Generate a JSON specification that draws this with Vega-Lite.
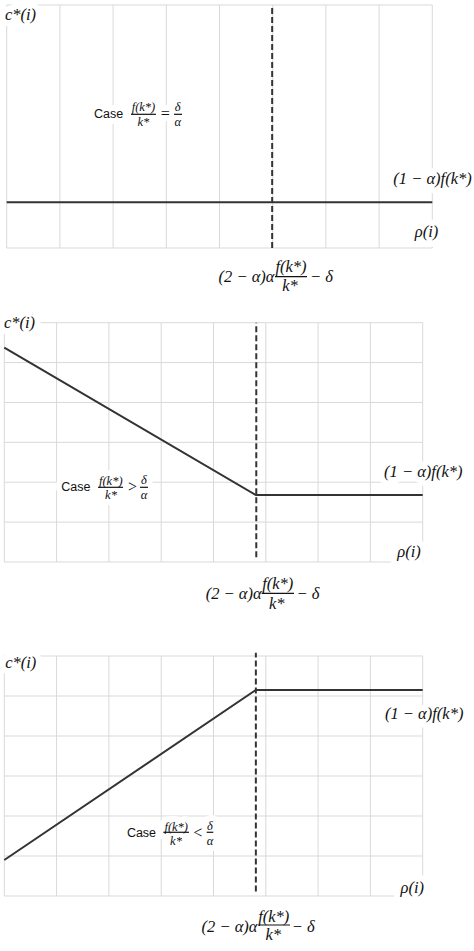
{
"$schema": "https://vega.github.io/schema/vega-lite/v6.json",
"padding": 0,
"background": "white",
"spacing": 60,
"bounds": "flush",
"config": {"view": {"stroke": null}},
"datasets": {
"vgrid": [{"x":0},{"x":1},{"x":2},{"x":3},{"x":4},{"x":5},{"x":6},{"x":7},{"x":8}],
"hgrid_all": [{"y":0},{"y":1},{"y":2},{"y":3},{"y":4},{"y":5},{"y":6}],
"hgrid_edge": [{"y":0},{"y":6}],
"curve": [
{"p":1,"x":0,"y":1.13},{"p":1,"x":8,"y":1.13},
{"p":2,"x":0,"y":5.374},{"p":2,"x":4.81,"y":1.68},{"p":2,"x":8,"y":1.68},
{"p":3,"x":0,"y":0.9},{"p":3,"x":4.81,"y":5.15},{"p":3,"x":8,"y":5.15}
],
"dash": [
{"p":1,"x":4.99,"y":0,"y2":6},
{"p":2,"x":4.818,"y":0.118,"y2":6},
{"p":3,"x":4.81,"y":0.11,"y2":6.08}
],
"bars": [
{"p":1,"x":2.336,"x2":2.806,"y":3.301},
{"p":1,"x":3.145,"x2":3.295,"y":3.301},
{"p":1,"x":5.043,"x2":5.645,"y":-0.709},
{"p":2,"x":1.792,"x2":2.270,"y":1.873},
{"p":2,"x":2.595,"x2":2.747,"y":1.873},
{"p":2,"x":4.922,"x2":5.539,"y":-0.785},
{"p":3,"x":3.040,"x2":3.532,"y":1.593},
{"p":3,"x":3.870,"x2":3.996,"y":1.593},
{"p":3,"x":4.857,"x2":5.463,"y":-0.725}
],
"texts": [
{"p":1,"t":"c*(i)","x":0.259,"y":5.753,"r":"big"},
{"p":1,"t":"Case","x":1.914,"y":3.309,"r":"case"},
{"p":1,"t":"f(k*)","x":2.571,"y":3.481,"r":"small"},
{"p":1,"t":"k*","x":2.568,"y":3.111,"r":"small"},
{"p":1,"t":"=","x":2.976,"y":3.309,"r":"op"},
{"p":1,"t":"δ","x":3.214,"y":3.481,"r":"small"},
{"p":1,"t":"α","x":3.214,"y":3.111,"r":"small"},
{"p":1,"t":"(1 − α)f(k*)","x":8.004,"y":1.704,"r":"big"},
{"p":1,"t":"ρ(i)","x":7.891,"y":0.402,"r":"big"},
{"p":1,"t":"(2 − α)α","x":4.508,"y":-0.723,"r":"big"},
{"p":1,"t":"f(k*)","x":5.344,"y":-0.462,"r":"big"},
{"p":1,"t":"k*","x":5.325,"y":-0.931,"r":"big"},
{"p":1,"t":"− δ","x":5.917,"y":-0.723,"r":"big"},
{"p":2,"t":"c*(i)","x":0.29,"y":5.985,"r":"big"},
{"p":2,"t":"Case","x":1.367,"y":1.873,"r":"case"},
{"p":2,"t":"f(k*)","x":2.036,"y":2.031,"r":"small"},
{"p":2,"t":"k*","x":2.040,"y":1.680,"r":"small"},
{"p":2,"t":">","x":2.447,"y":1.873,"r":"op"},
{"p":2,"t":"δ","x":2.671,"y":2.056,"r":"small"},
{"p":2,"t":"α","x":2.671,"y":1.680,"r":"small"},
{"p":2,"t":"(1 − α)f(k*)","x":8.011,"y":2.249,"r":"big"},
{"p":2,"t":"ρ(i)","x":7.738,"y":0.258,"r":"big"},
{"p":2,"t":"(2 − α)α","x":4.386,"y":-0.802,"r":"big"},
{"p":2,"t":"f(k*)","x":5.229,"y":-0.559,"r":"big"},
{"p":2,"t":"k*","x":5.208,"y":-1.053,"r":"big"},
{"p":2,"t":"− δ","x":5.807,"y":-0.802,"r":"big"},
{"p":3,"t":"c*(i)","x":0.315,"y":5.818,"r":"big"},
{"p":3,"t":"Case","x":2.623,"y":1.568,"r":"case"},
{"p":3,"t":"f(k*)","x":3.287,"y":1.733,"r":"small"},
{"p":3,"t":"k*","x":3.283,"y":1.383,"r":"small"},
{"p":3,"t":"<","x":3.698,"y":1.568,"r":"op"},
{"p":3,"t":"δ","x":3.933,"y":1.75,"r":"small"},
{"p":3,"t":"α","x":3.933,"y":1.383,"r":"small"},
{"p":3,"t":"(1 − α)f(k*)","x":8.029,"y":4.543,"r":"big"},
{"p":3,"t":"ρ(i)","x":7.801,"y":0.193,"r":"big"},
{"p":3,"t":"(2 − α)α","x":4.306,"y":-0.783,"r":"big"},
{"p":3,"t":"f(k*)","x":5.153,"y":-0.518,"r":"big"},
{"p":3,"t":"k*","x":5.143,"y":-0.975,"r":"big"},
{"p":3,"t":"− δ","x":5.717,"y":-0.783,"r":"big"}
]
},
"vconcat": [
{
"width": 440, "height": 248,
"layer": [
{"data":{"name":"vgrid"},"mark":{"type":"rule","color":"#d9d9d9","strokeWidth":1},
 "encoding":{"x":{"field":"x","type":"quantitative","scale":{"domain":[-0.126,8.145],"nice":false,"zero":false},"axis":null},
  "y":{"datum":0,"type":"quantitative","scale":{"domain":[0,6.1235],"nice":false,"zero":false},"axis":null},"y2":{"datum":6}}},
{"data":{"name":"hgrid_edge"},"mark":{"type":"rule","color":"#d9d9d9","strokeWidth":1},
 "encoding":{"y":{"field":"y","type":"quantitative","scale":{"domain":[0,6.1235],"nice":false,"zero":false},"axis":null},
  "x":{"datum":0,"type":"quantitative","scale":{"domain":[-0.126,8.145],"nice":false,"zero":false},"axis":null},"x2":{"datum":8}}},
{"data":{"name":"texts"},"transform":[{"filter":"datum.p==1 && datum.r!='case'"}],
 "mark":{"type":"text","font":"Liberation Serif","fontStyle":"italic","fill":"white","stroke":"white","strokeWidth":12,"strokeJoin":"round","align":"center","baseline":"middle"},
 "encoding":{"x":{"field":"x","type":"quantitative"},"y":{"field":"y","type":"quantitative"},"text":{"field":"t"},
  "size":{"field":"r","type":"nominal","scale":{"type":"ordinal","domain":["big","small","op","case"],"range":[16.5,12.5,16,12.5]},"legend":null}}},
{"data":{"name":"texts"},"transform":[{"filter":"datum.p==1 && datum.r=='case'"}],
 "mark":{"type":"text","font":"Liberation Sans","fill":"white","stroke":"white","strokeWidth":12,"strokeJoin":"round","align":"center","baseline":"middle"},
 "encoding":{"x":{"field":"x","type":"quantitative"},"y":{"field":"y","type":"quantitative"},"text":{"field":"t"},
  "size":{"field":"r","type":"nominal","scale":{"type":"ordinal","domain":["big","small","op","case"],"range":[16.5,12.5,16,12.5]},"legend":null}}},
{"data":{"name":"dash"},"transform":[{"filter":"datum.p==1"}],"mark":{"type":"rule","color":"#333333","strokeWidth":2,"strokeDash":[6,3]},
 "encoding":{"x":{"field":"x","type":"quantitative"},"y":{"field":"y","type":"quantitative"},"y2":{"field":"y2"}}},
{"data":{"name":"curve"},"transform":[{"filter":"datum.p==1"}],"mark":{"type":"line","color":"#333333","strokeWidth":2},
 "encoding":{"x":{"field":"x","type":"quantitative"},"y":{"field":"y","type":"quantitative"}}},
{"data":{"name":"texts"},"transform":[{"filter":"datum.p==1 && datum.r!='case'"}],
 "mark":{"type":"text","font":"Liberation Serif","fontStyle":"italic","color":"#111111","align":"center","baseline":"middle"},
 "encoding":{"x":{"field":"x","type":"quantitative"},"y":{"field":"y","type":"quantitative"},"text":{"field":"t"},
  "size":{"field":"r","type":"nominal","scale":{"type":"ordinal","domain":["big","small","op","case"],"range":[16.5,12.5,16,12.5]},"legend":null}}},
{"data":{"name":"texts"},"transform":[{"filter":"datum.p==1 && datum.r=='case'"}],
 "mark":{"type":"text","font":"Liberation Sans","color":"#111111","align":"center","baseline":"middle"},
 "encoding":{"x":{"field":"x","type":"quantitative"},"y":{"field":"y","type":"quantitative"},"text":{"field":"t"},
  "size":{"field":"r","type":"nominal","scale":{"type":"ordinal","domain":["big","small","op","case"],"range":[16.5,12.5,16,12.5]},"legend":null}}},
{"data":{"name":"bars"},"transform":[{"filter":"datum.p==1"}],"mark":{"type":"rule","color":"#111111","strokeWidth":1.2},
 "encoding":{"x":{"field":"x","type":"quantitative"},"x2":{"field":"x2"},"y":{"field":"y","type":"quantitative"}}}
]
},
{
"width": 440, "height": 254,
"layer": [
{"data":{"name":"vgrid"},"mark":{"type":"rule","color":"#d9d9d9","strokeWidth":1},
 "encoding":{"x":{"field":"x","type":"quantitative","scale":{"domain":[-0.0822,8.331],"nice":false,"zero":false},"axis":null},
  "y":{"datum":0,"type":"quantitative","scale":{"domain":[0,6.3686],"nice":false,"zero":false},"axis":null},"y2":{"datum":6}}},
{"data":{"name":"hgrid_all"},"mark":{"type":"rule","color":"#d9d9d9","strokeWidth":1},
 "encoding":{"y":{"field":"y","type":"quantitative","scale":{"domain":[0,6.3686],"nice":false,"zero":false},"axis":null},
  "x":{"datum":0,"type":"quantitative","scale":{"domain":[-0.0822,8.331],"nice":false,"zero":false},"axis":null},"x2":{"datum":8}}},
{"data":{"name":"texts"},"transform":[{"filter":"datum.p==2 && datum.r!='case'"}],
 "mark":{"type":"text","font":"Liberation Serif","fontStyle":"italic","fill":"white","stroke":"white","strokeWidth":12,"strokeJoin":"round","align":"center","baseline":"middle"},
 "encoding":{"x":{"field":"x","type":"quantitative"},"y":{"field":"y","type":"quantitative"},"text":{"field":"t"},
  "size":{"field":"r","type":"nominal","scale":{"type":"ordinal","domain":["big","small","op","case"],"range":[16.5,12.5,16,12.5]},"legend":null}}},
{"data":{"name":"texts"},"transform":[{"filter":"datum.p==2 && datum.r=='case'"}],
 "mark":{"type":"text","font":"Liberation Sans","fill":"white","stroke":"white","strokeWidth":12,"strokeJoin":"round","align":"center","baseline":"middle"},
 "encoding":{"x":{"field":"x","type":"quantitative"},"y":{"field":"y","type":"quantitative"},"text":{"field":"t"},
  "size":{"field":"r","type":"nominal","scale":{"type":"ordinal","domain":["big","small","op","case"],"range":[16.5,12.5,16,12.5]},"legend":null}}},
{"data":{"name":"dash"},"transform":[{"filter":"datum.p==2"}],"mark":{"type":"rule","color":"#333333","strokeWidth":2,"strokeDash":[6,3]},
 "encoding":{"x":{"field":"x","type":"quantitative"},"y":{"field":"y","type":"quantitative"},"y2":{"field":"y2"}}},
{"data":{"name":"curve"},"transform":[{"filter":"datum.p==2"}],"mark":{"type":"line","color":"#333333","strokeWidth":2},
 "encoding":{"x":{"field":"x","type":"quantitative"},"y":{"field":"y","type":"quantitative"}}},
{"data":{"name":"texts"},"transform":[{"filter":"datum.p==2 && datum.r!='case'"}],
 "mark":{"type":"text","font":"Liberation Serif","fontStyle":"italic","color":"#111111","align":"center","baseline":"middle"},
 "encoding":{"x":{"field":"x","type":"quantitative"},"y":{"field":"y","type":"quantitative"},"text":{"field":"t"},
  "size":{"field":"r","type":"nominal","scale":{"type":"ordinal","domain":["big","small","op","case"],"range":[16.5,12.5,16,12.5]},"legend":null}}},
{"data":{"name":"texts"},"transform":[{"filter":"datum.p==2 && datum.r=='case'"}],
 "mark":{"type":"text","font":"Liberation Sans","color":"#111111","align":"center","baseline":"middle"},
 "encoding":{"x":{"field":"x","type":"quantitative"},"y":{"field":"y","type":"quantitative"},"text":{"field":"t"},
  "size":{"field":"r","type":"nominal","scale":{"type":"ordinal","domain":["big","small","op","case"],"range":[16.5,12.5,16,12.5]},"legend":null}}},
{"data":{"name":"bars"},"transform":[{"filter":"datum.p==2"}],"mark":{"type":"rule","color":"#111111","strokeWidth":1.2},
 "encoding":{"x":{"field":"x","type":"quantitative"},"x2":{"field":"x2"},"y":{"field":"y","type":"quantitative"}}}
]
},
{
"width": 440, "height": 274,
"layer": [
{"data":{"name":"vgrid"},"mark":{"type":"rule","color":"#d9d9d9","strokeWidth":1},
 "encoding":{"x":{"field":"x","type":"quantitative","scale":{"domain":[-0.0822,8.331],"nice":false,"zero":false},"axis":null},
  "y":{"datum":0,"type":"quantitative","scale":{"domain":[0,6.85],"nice":false,"zero":false},"axis":null},"y2":{"datum":6}}},
{"data":{"name":"hgrid_all"},"mark":{"type":"rule","color":"#d9d9d9","strokeWidth":1},
 "encoding":{"y":{"field":"y","type":"quantitative","scale":{"domain":[0,6.85],"nice":false,"zero":false},"axis":null},
  "x":{"datum":0,"type":"quantitative","scale":{"domain":[-0.0822,8.331],"nice":false,"zero":false},"axis":null},"x2":{"datum":8}}},
{"data":{"name":"texts"},"transform":[{"filter":"datum.p==3 && datum.r!='case'"}],
 "mark":{"type":"text","font":"Liberation Serif","fontStyle":"italic","fill":"white","stroke":"white","strokeWidth":12,"strokeJoin":"round","align":"center","baseline":"middle"},
 "encoding":{"x":{"field":"x","type":"quantitative"},"y":{"field":"y","type":"quantitative"},"text":{"field":"t"},
  "size":{"field":"r","type":"nominal","scale":{"type":"ordinal","domain":["big","small","op","case"],"range":[16.5,12.5,16,12.5]},"legend":null}}},
{"data":{"name":"texts"},"transform":[{"filter":"datum.p==3 && datum.r=='case'"}],
 "mark":{"type":"text","font":"Liberation Sans","fill":"white","stroke":"white","strokeWidth":12,"strokeJoin":"round","align":"center","baseline":"middle"},
 "encoding":{"x":{"field":"x","type":"quantitative"},"y":{"field":"y","type":"quantitative"},"text":{"field":"t"},
  "size":{"field":"r","type":"nominal","scale":{"type":"ordinal","domain":["big","small","op","case"],"range":[16.5,12.5,16,12.5]},"legend":null}}},
{"data":{"name":"dash"},"transform":[{"filter":"datum.p==3"}],"mark":{"type":"rule","color":"#333333","strokeWidth":2,"strokeDash":[6,3]},
 "encoding":{"x":{"field":"x","type":"quantitative"},"y":{"field":"y","type":"quantitative"},"y2":{"field":"y2"}}},
{"data":{"name":"curve"},"transform":[{"filter":"datum.p==3"}],"mark":{"type":"line","color":"#333333","strokeWidth":2},
 "encoding":{"x":{"field":"x","type":"quantitative"},"y":{"field":"y","type":"quantitative"}}},
{"data":{"name":"texts"},"transform":[{"filter":"datum.p==3 && datum.r!='case'"}],
 "mark":{"type":"text","font":"Liberation Serif","fontStyle":"italic","color":"#111111","align":"center","baseline":"middle"},
 "encoding":{"x":{"field":"x","type":"quantitative"},"y":{"field":"y","type":"quantitative"},"text":{"field":"t"},
  "size":{"field":"r","type":"nominal","scale":{"type":"ordinal","domain":["big","small","op","case"],"range":[16.5,12.5,16,12.5]},"legend":null}}},
{"data":{"name":"texts"},"transform":[{"filter":"datum.p==3 && datum.r=='case'"}],
 "mark":{"type":"text","font":"Liberation Sans","color":"#111111","align":"center","baseline":"middle"},
 "encoding":{"x":{"field":"x","type":"quantitative"},"y":{"field":"y","type":"quantitative"},"text":{"field":"t"},
  "size":{"field":"r","type":"nominal","scale":{"type":"ordinal","domain":["big","small","op","case"],"range":[16.5,12.5,16,12.5]},"legend":null}}},
{"data":{"name":"bars"},"transform":[{"filter":"datum.p==3"}],"mark":{"type":"rule","color":"#111111","strokeWidth":1.2},
 "encoding":{"x":{"field":"x","type":"quantitative"},"x2":{"field":"x2"},"y":{"field":"y","type":"quantitative"}}}
]
}
]
}
